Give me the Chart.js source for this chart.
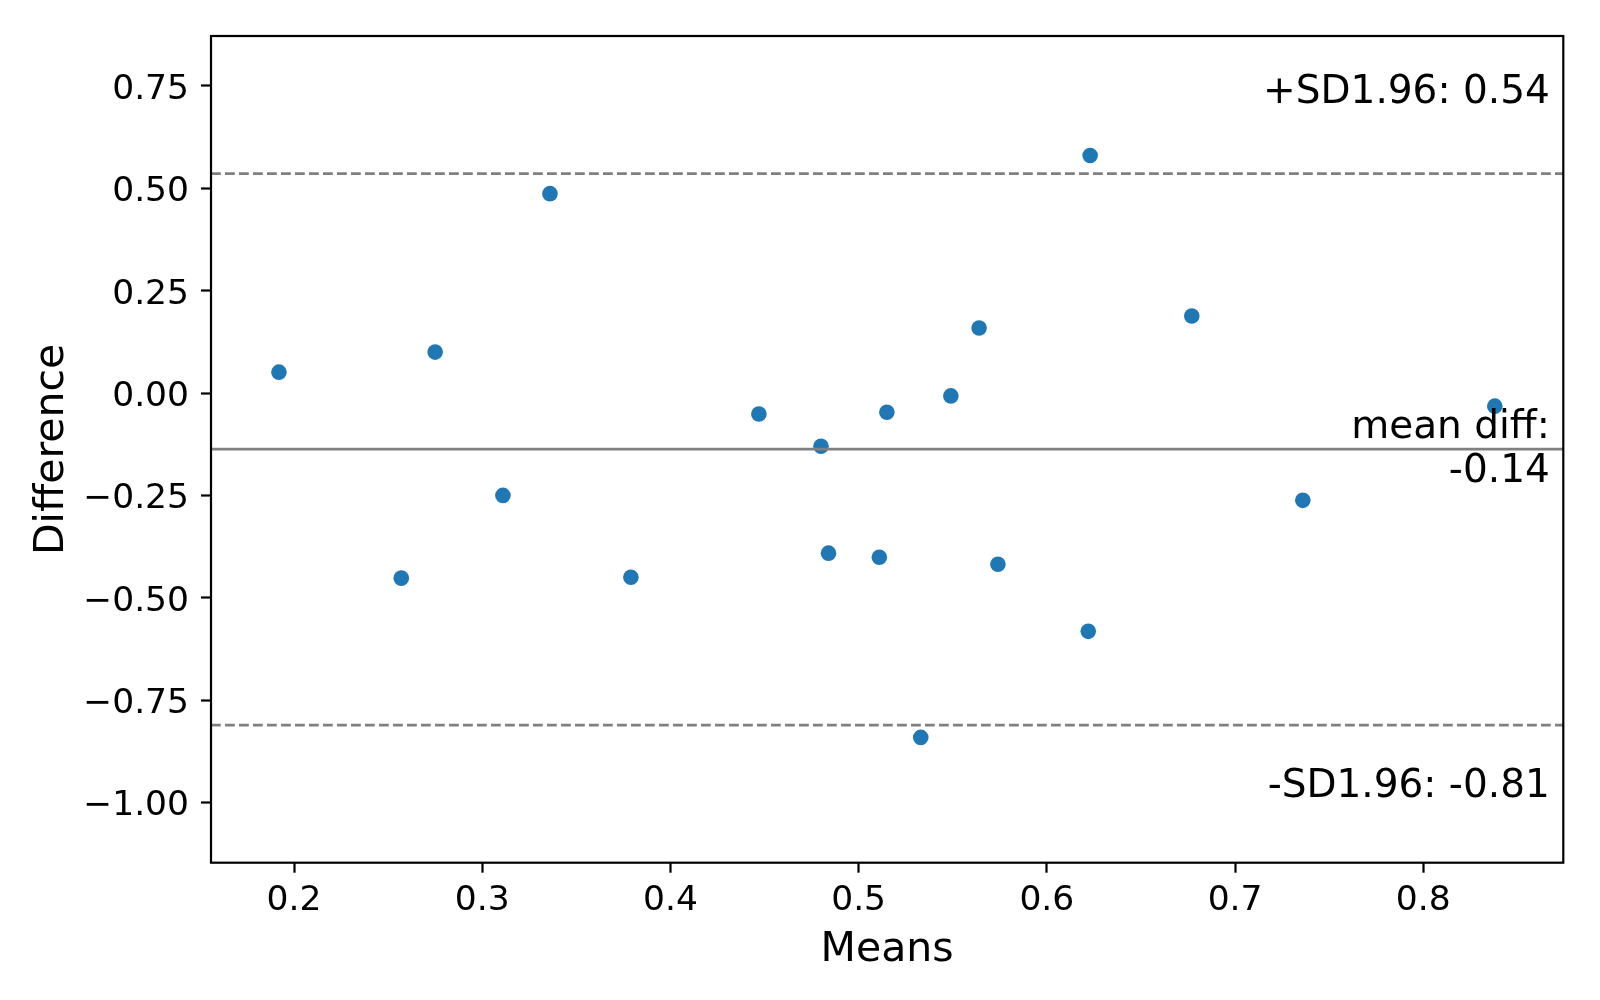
<!DOCTYPE html>
<html>
<head>
<meta charset="utf-8">
<title>Bland-Altman: Means vs Difference</title>
<script src="https://cdn.jsdelivr.net/npm/chart.js@4.4.1/dist/chart.umd.min.js"></script>
<style>
  html, body { margin: 0; padding: 0; background: #fff; }
  #wrap { width: 1600px; height: 1000px; }
</style>
</head>
<body>
<div id="wrap"><canvas id="chart" width="1600" height="1000"></canvas></div>
<script>
// mean of the two measurements (x) and their difference (y), one entry per pair
const means = [0.192, 0.257, 0.275, 0.311, 0.336, 0.379, 0.447, 0.480, 0.484, 0.511,
               0.515, 0.533, 0.549, 0.564, 0.574, 0.622, 0.623, 0.677, 0.736, 0.838];
const diffs = [0.051, -0.452, 0.100, -0.250, 0.487, -0.450, -0.051, -0.130, -0.391, -0.401,
               -0.047, -0.841, -0.007, 0.159, -0.418, -0.582, 0.580, 0.188, -0.262, -0.032];

// agreement lines
const meanDiff = -0.137;
const upperLimit = 0.536;
const lowerLimit = -0.811;
const sdLimit = 1.96;

// axis ranges and ticks
const xRange = [0.1559, 0.8744];
const yRange = [-1.147, 0.872];
const xTicks = [0.2, 0.3, 0.4, 0.5, 0.6, 0.7, 0.8];
const xTickLabels = ['0.2', '0.3', '0.4', '0.5', '0.6', '0.7', '0.8'];
const yTicks = [-1.0, -0.75, -0.5, -0.25, 0, 0.25, 0.5, 0.75];
const yTickLabels = ['\u22121.00', '\u22120.75', '\u22120.50', '\u22120.25', '0.00', '0.25', '0.50', '0.75'];

const FONT = "'DejaVu Sans', 'Liberation Sans', sans-serif";
const GRAY = '#808080';
const BLUE = '#1f77b4';

const points = means.map((m, i) => ({ x: m, y: diffs[i] }));
const hline = (y) => [{ x: xRange[0], y }, { x: xRange[1], y }];
const fmt = (v) => (Math.round(v * 100) / 100).toFixed(2);

// box around the plot + the three text notes (axes-fraction placement, like annotate)
const framePlugin = {
  id: 'frame',
  afterDatasetsDraw(chart) {
    const { ctx, chartArea: a } = chart;
    const w = a.right - a.left, h = a.bottom - a.top;
    ctx.save();
    ctx.fillStyle = '#000';
    ctx.font = `39px ${FONT}`;
    ctx.textAlign = 'right';
    ctx.textBaseline = 'alphabetic';
    const tx = a.right - 0.01 * w;
    ctx.fillText(`+SD${sdLimit}: ${fmt(upperLimit)}`, tx, a.bottom - 0.9195 * h);
    ctx.fillText(`-SD${sdLimit}: ${fmt(lowerLimit)}`, tx, a.bottom - 0.0799 * h);
    const midY = a.top + 0.5 * h;
    ctx.fillText('mean diff:', tx, midY - 11);
    ctx.fillText(fmt(meanDiff), tx, midY + 33);
    ctx.restore();
  },
  afterDraw(chart) {
    const { ctx, chartArea: a } = chart;
    ctx.save();
    ctx.strokeStyle = '#000';
    ctx.lineWidth = 2.2;
    ctx.strokeRect(a.left, a.top, a.right - a.left, a.bottom - a.top);
    ctx.restore();
  },
};

const tickFont = { family: FONT, size: 34.5 };
const titleFont = { family: FONT, size: 41 };
const gridOpts = {
  drawOnChartArea: false, drawTicks: true, tickLength: 10,
  tickColor: '#000', tickWidth: 2.2,
};

new Chart(document.getElementById('chart'), {
  type: 'scatter',
  data: {
    datasets: [
      { type: 'line', label: 'upper', data: hline(upperLimit), borderColor: GRAY, borderWidth: 2.6,
        borderDash: [9.8, 4.2], pointRadius: 0, fill: false },
      { type: 'line', label: 'lower', data: hline(lowerLimit), borderColor: GRAY, borderWidth: 2.6,
        borderDash: [9.8, 4.2], pointRadius: 0, fill: false },
      { type: 'line', label: 'mean', data: hline(meanDiff), borderColor: GRAY, borderWidth: 2.6,
        pointRadius: 0, fill: false },
      { label: 'pairs', data: points, backgroundColor: BLUE, borderWidth: 0,
        pointRadius: 7.8, pointHoverRadius: 7.8 },
    ],
  },
  options: {
    responsive: false,
    devicePixelRatio: 1,
    animation: false,
    layout: { padding: { top: 36, right: 36.7, left: 0, bottom: 0 } },
    plugins: { legend: { display: false }, tooltip: { enabled: false } },
    scales: {
      x: {
        type: 'linear', min: xRange[0], max: xRange[1],
        afterFit: (s) => { s.height = 1000 - 862.7; },
        afterBuildTicks: (s) => { s.ticks = xTicks.map((v) => ({ value: v })); },
        ticks: { autoSkip: false, maxRotation: 0, color: '#000', font: tickFont, padding: 8,
                 callback: (v, i) => xTickLabels[i] },
        grid: gridOpts,
        border: { display: false },
        title: { display: true, text: 'Means', color: '#000', font: titleFont, padding: { top: 0, bottom: 24.7 } },
      },
      y: {
        type: 'linear', min: yRange[0], max: yRange[1],
        afterFit: (s) => { s.width = 211; },
        afterBuildTicks: (s) => { s.ticks = yTicks.map((v) => ({ value: v })); },
        ticks: { autoSkip: false, color: '#000', font: tickFont, padding: 12, labelOffset: 4,
                 callback: (v, i) => yTickLabels[i] },
        grid: gridOpts,
        border: { display: false },
        title: { display: true, text: 'Difference', color: '#000', font: titleFont, padding: { top: 28, bottom: 0 } },
      },
    },
  },
  plugins: [framePlugin],
});
</script>
</body>
</html>
